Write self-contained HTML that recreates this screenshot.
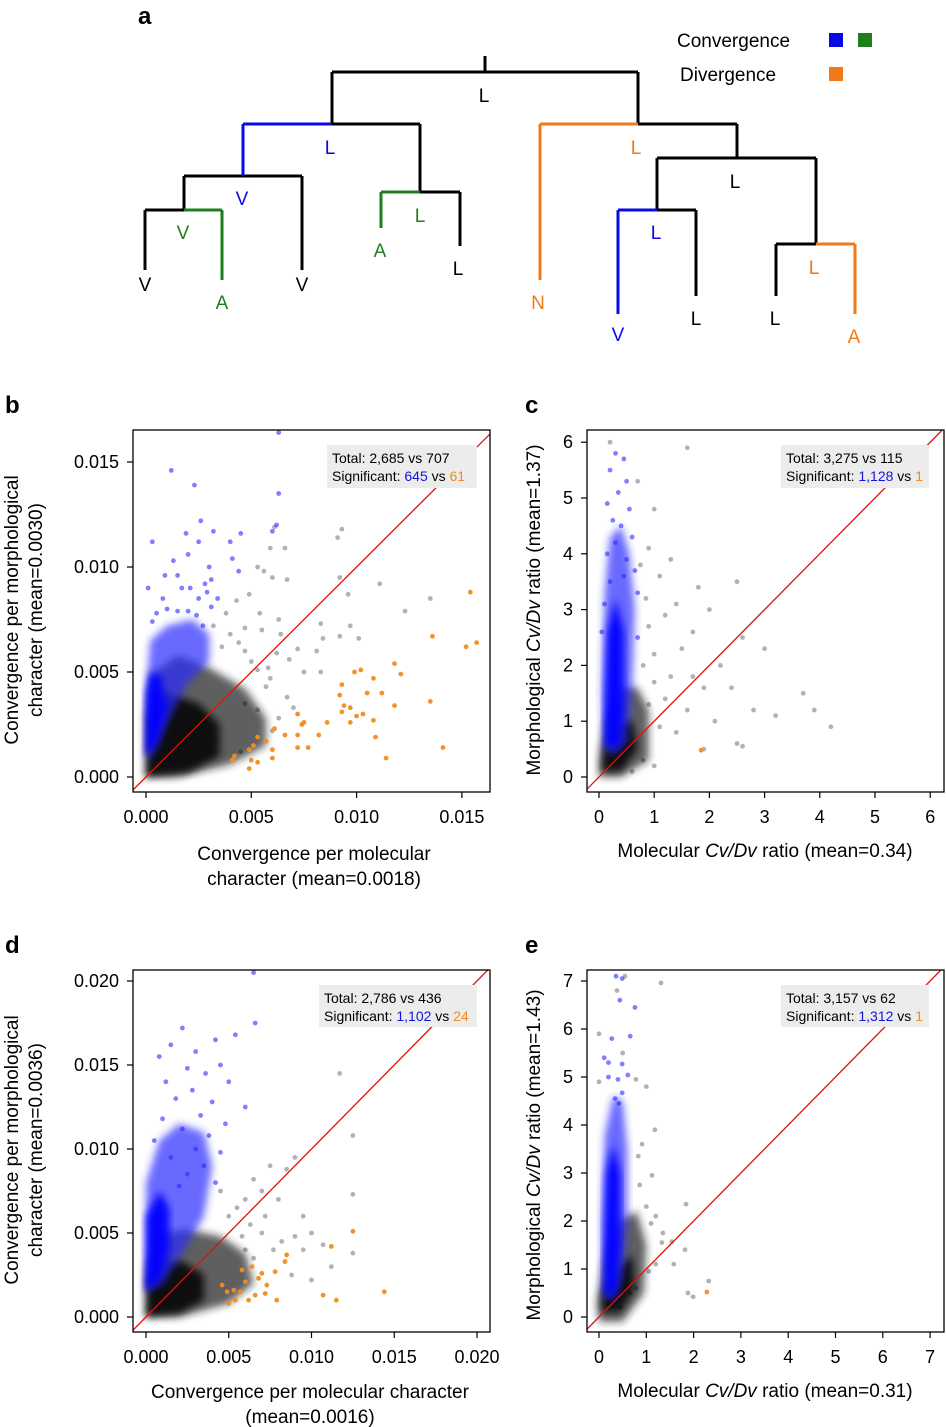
<!DOCTYPE html>
<html><head><meta charset="utf-8"><style>
html,body{margin:0;padding:0;background:#fff;width:946px;height:1427px;overflow:hidden}
svg{display:block;font-family:"Liberation Sans",Arial,sans-serif}
</style></head><body>
<svg id="fig" width="946" height="1427" viewBox="0 0 946 1427">
<defs>
<filter id="blur3" x="-20%" y="-20%" width="140%" height="140%"><feGaussianBlur stdDeviation="4"/></filter>
</defs>
<g stroke-width="3" fill="none">
<text x="138" y="24" font-size="24" font-weight="bold" fill="#000" stroke="none">a</text>
<g stroke="#000">
<path d="M485 56V72M332 72H638M332 72V124M332 124H420M420 124V192M420 192H460M460 192V246M184 176H302M184 176V210M145 210H184M145 210V270M302 176V270M638 72V124M638 124H737M737 124V158M657 158H816M657 158V210M657 210H696M696 210V296M816 158V244M776 244H816M776 244V296"/>
</g>
<g stroke="#0a0ae6"><path d="M243 124H332M243 124V176M618 210H657M618 210V314"/></g>
<g stroke="#1f7f1f"><path d="M184 210H222M222 210V280M381 192H420M381 192V228"/></g>
<g stroke="#f07a18"><path d="M540 124H638M540 124V280M816 244H855M855 244V314"/></g>
<g font-size="19" text-anchor="middle" stroke="none">
<text x="484" y="102" fill="#000">L</text>
<text x="330" y="154" fill="#0a0ae6">L</text>
<text x="242" y="205" fill="#0a0ae6">V</text>
<text x="183" y="239" fill="#1f7f1f">V</text>
<text x="145" y="291" fill="#000">V</text>
<text x="222" y="309" fill="#1f7f1f">A</text>
<text x="302" y="291" fill="#000">V</text>
<text x="420" y="222" fill="#1f7f1f">L</text>
<text x="380" y="257" fill="#1f7f1f">A</text>
<text x="458" y="275" fill="#000">L</text>
<text x="636" y="154" fill="#f07a18">L</text>
<text x="538" y="309" fill="#f07a18">N</text>
<text x="735" y="188" fill="#000">L</text>
<text x="656" y="239" fill="#0a0ae6">L</text>
<text x="618" y="341" fill="#0a0ae6">V</text>
<text x="696" y="325" fill="#000">L</text>
<text x="814" y="274" fill="#f07a18">L</text>
<text x="775" y="325" fill="#000">L</text>
<text x="854" y="343" fill="#f07a18">A</text>
</g>
<g stroke="none">
<text x="677" y="47" font-size="19" fill="#000">Convergence</text>
<rect x="829" y="33" width="14" height="14" fill="#0a0ae6"/>
<rect x="858" y="33" width="14" height="14" fill="#1f7f1f"/>
<text x="680" y="81" font-size="19" fill="#000">Divergence</text>
<rect x="829" y="67" width="14" height="14" fill="#f07a18"/>
</g>
</g>
<g id="panels"></g>
</svg>
<script>
// ---------- Panel b data ----------
const bXTicks=[0,0.005,0.010,0.015];
const bXTickLabels=["0.000","0.005","0.010","0.015"];
const bYTicks=[0,0.005,0.010,0.015];
const bYTickLabels=["0.000","0.005","0.010","0.015"];
const bBlackCore=[[0,0],[0.0015,0],[0.004,0.0006],[0.0057,0.0015],[0.0057,0.0028],[0.0047,0.0042],[0.003,0.0052],[0.0015,0.0058],[0.0004,0.005],[0,0.003]];
const bBlackDense=[[0,0],[0.002,0.0002],[0.0035,0.001],[0.0035,0.0025],[0.0025,0.0035],[0.001,0.004],[0.0002,0.003]];
const bBlueCore=[[0,0.0008],[0.0004,0.0012],[0.0012,0.003],[0.002,0.0045],[0.003,0.0055],[0.003,0.0068],[0.0022,0.0075],[0.001,0.0072],[0.0002,0.0065],[0,0.004]];
const bBlueDense=[[0,0.001],[0.0005,0.0016],[0.001,0.0033],[0.0007,0.0048],[0.0002,0.005],[0,0.004]];
const bGray=[[0.0093,0.0118],[0.0091,0.0114],[0.0059,0.0109],[0.0066,0.0109],[0.0061,0.0119],[0.0053,0.0100],[0.0056,0.0098],[0.0060,0.0095],[0.0067,0.0094],[0.0092,0.0095],[0.0111,0.0092],[0.0135,0.0085],[0.0123,0.0079],[0.0096,0.0087],[0.0083,0.0073],[0.0097,0.0072],[0.0101,0.0066],[0.0092,0.0067],[0.0084,0.0066],[0.0081,0.0060],[0.0068,0.0056],[0.0075,0.0050],[0.0083,0.0050],[0.0059,0.0047],[0.0067,0.0038],[0.0063,0.0075],[0.0054,0.0078],[0.0047,0.0071],[0.0038,0.0078],[0.0043,0.0084],[0.0049,0.0087],[0.0055,0.0070],[0.0062,0.0059],[0.0053,0.0051],[0.0057,0.0043],[0.0047,0.0035],[0.0053,0.0032],[0.0064,0.0068],[0.0047,0.0060],[0.0040,0.0068],[0.0032,0.0072],[0.0072,0.0061],[0.0044,0.0064],[0.0036,0.0062],[0.0050,0.0055],[0.0058,0.0052],[0.0063,0.0028],[0.0060,0.0022],[0.0045,0.0012],[0.0070,0.0033]];
const bBlue=[[0.0063,0.0164],[0.0012,0.0146],[0.0023,0.0139],[0.0063,0.0135],[0.0026,0.0122],[0.0062,0.0120],[0.0060,0.0117],[0.0003,0.0112],[0.0019,0.0116],[0.0032,0.0117],[0.0025,0.0112],[0.0040,0.0112],[0.0045,0.0116],[0.0020,0.0106],[0.0041,0.0104],[0.0013,0.0103],[0.0030,0.0100],[0.0015,0.0096],[0.0009,0.0096],[0.0028,0.0092],[0.0044,0.0098],[0.0031,0.0094],[0.0001,0.0090],[0.0017,0.0090],[0.0021,0.0090],[0.0029,0.0088],[0.0025,0.0085],[0.0034,0.0085],[0.0008,0.0085],[0.0031,0.0081],[0.0015,0.0079],[0.0005,0.0078],[0.0010,0.0080],[0.0020,0.0079],[0.0024,0.0077],[0.0003,0.0074],[0.0027,0.0072]];
const bOrange=[[0.0154,0.0088],[0.0136,0.0067],[0.0152,0.0062],[0.0157,0.0064],[0.0118,0.0054],[0.0121,0.0049],[0.0099,0.0050],[0.0102,0.0051],[0.0108,0.0047],[0.0093,0.0044],[0.0105,0.0040],[0.0112,0.0040],[0.0092,0.0039],[0.0094,0.0034],[0.0097,0.0033],[0.0093,0.0031],[0.0103,0.0030],[0.0100,0.0029],[0.0097,0.0026],[0.0108,0.0027],[0.0118,0.0034],[0.0135,0.0036],[0.0109,0.0019],[0.0141,0.0014],[0.0114,0.0009],[0.0086,0.0026],[0.0082,0.0020],[0.0077,0.0014],[0.0072,0.0014],[0.0072,0.0020],[0.0074,0.0025],[0.0075,0.0026],[0.0072,0.0030],[0.0066,0.0020],[0.0061,0.0023],[0.0060,0.0013],[0.0060,0.0009],[0.0057,0.0017],[0.0053,0.0019],[0.0051,0.0015],[0.0049,0.0013],[0.0050,0.0008],[0.0053,0.0007],[0.0049,0.0004],[0.0042,0.0010],[0.0041,0.0008]];

// ---------- Panel c data ----------
const cXTicks=[0,1,2,3,4,5,6];
const cXTickLabels=["0","1","2","3","4","5","6"];
const cYTicks=[0,1,2,3,4,5,6];
const cYTickLabels=["0","1","2","3","4","5","6"];
const cBlackCore=[[0,0],[0.4,0],[0.9,0.3],[0.9,1.2],[0.7,1.6],[0.4,1.6],[0.1,1.0],[0,0.3]];
const cBlackDense=[[0.05,0.1],[0.4,0.1],[0.7,0.5],[0.6,1.0],[0.3,1.0],[0.08,0.5]];
const cBlueCore=[[0.08,0.5],[0.25,0.4],[0.5,0.6],[0.6,1.5],[0.65,3],[0.55,4],[0.4,4.5],[0.2,4.3],[0.1,3.3],[0.05,1.5]];
const cBlueDense=[[0.12,0.6],[0.35,0.5],[0.45,1.2],[0.45,2.6],[0.3,3.2],[0.15,2.6],[0.1,1.2]];
const cGray=[[1.6,5.9],[0.2,6.0],[0.7,5.3],[1.0,4.8],[0.9,4.1],[1.3,3.9],[1.1,3.6],[1.8,3.4],[2.5,3.5],[1.4,3.1],[2.0,3.0],[1.2,2.9],[0.9,2.7],[1.7,2.6],[2.6,2.5],[1.5,2.3],[1.0,2.2],[3.0,2.3],[2.2,2.0],[1.3,1.8],[1.9,1.6],[2.4,1.6],[3.7,1.5],[2.8,1.2],[3.2,1.1],[3.9,1.2],[4.2,0.9],[1.2,1.4],[1.6,1.2],[2.1,1.0],[2.5,0.6],[1.4,0.8],[0.9,1.3],[1.1,0.9],[1.9,0.5],[0.8,0.3],[1.0,0.2],[0.6,0.1],[2.6,0.55],[1.7,1.8],[0.8,2.0],[1.0,1.7],[0.85,3.2],[0.75,3.8]];
const cBlue=[[0.3,5.8],[0.45,5.7],[0.2,5.5],[0.5,5.3],[0.35,5.1],[0.15,4.9],[0.55,4.8],[0.25,4.6],[0.4,4.5],[0.6,4.3],[0.3,4.2],[0.15,4.0],[0.5,3.9],[0.65,3.7],[0.45,3.6],[0.2,3.5],[0.7,3.3],[0.1,3.1],[0.7,2.5],[0.05,2.6]];
const cOrange=[[1.85,0.48]];

// ---------- Panel d data ----------
const dXTicks=[0,0.005,0.010,0.015,0.020];
const dXTickLabels=["0.000","0.005","0.010","0.015","0.020"];
const dYTicks=[0,0.005,0.010,0.015,0.020];
const dYTickLabels=["0.000","0.005","0.010","0.015","0.020"];
const dBlackCore=[[0,0],[0.002,0],[0.005,0.0008],[0.0065,0.002],[0.006,0.0038],[0.0045,0.0048],[0.0025,0.0052],[0.0008,0.005],[0,0.003]];
const dBlackDense=[[0,0],[0.002,0.0002],[0.0035,0.001],[0.0035,0.0025],[0.0022,0.0033],[0.0008,0.0034],[0.0001,0.0022]];
const dBlueCore=[[0,0.0015],[0.001,0.002],[0.002,0.0035],[0.0035,0.006],[0.004,0.009],[0.0035,0.011],[0.002,0.0115],[0.0008,0.0105],[0,0.008]];
const dBlueDense=[[0,0.0015],[0.0008,0.0022],[0.0014,0.004],[0.0014,0.0065],[0.0008,0.0075],[0,0.006]];
const dGray=[[0.0117,0.0145],[0.0125,0.0108],[0.0090,0.0095],[0.0085,0.0088],[0.0075,0.0090],[0.0065,0.0082],[0.0070,0.0075],[0.0080,0.0070],[0.0060,0.0070],[0.0055,0.0065],[0.0095,0.0060],[0.0072,0.0060],[0.0100,0.0050],[0.0090,0.0048],[0.0063,0.0055],[0.0082,0.0045],[0.0095,0.0040],[0.0125,0.0038],[0.0125,0.0073],[0.0107,0.0043],[0.0112,0.0030],[0.0088,0.0025],[0.0077,0.0040],[0.0070,0.0050],[0.0058,0.0048],[0.0065,0.0035],[0.0100,0.0022],[0.0060,0.0040],[0.0050,0.0060],[0.0045,0.0075]];
const dBlue=[[0.0065,0.0205],[0.0066,0.0175],[0.0022,0.0172],[0.0015,0.0162],[0.0042,0.0165],[0.0054,0.0168],[0.0030,0.0158],[0.0008,0.0155],[0.0045,0.0150],[0.0025,0.0148],[0.0036,0.0145],[0.0012,0.0140],[0.0050,0.0140],[0.0028,0.0135],[0.0018,0.0130],[0.0040,0.0128],[0.0060,0.0125],[0.0033,0.0120],[0.0010,0.0118],[0.0048,0.0115],[0.0022,0.0112],[0.0038,0.0108],[0.0005,0.0105],[0.0030,0.0100],[0.0045,0.0098],[0.0015,0.0095],[0.0035,0.0090],[0.0025,0.0085],[0.0042,0.0080],[0.0020,0.0078]];
const dOrange=[[0.0125,0.0051],[0.0112,0.0042],[0.0144,0.0015],[0.0115,0.0010],[0.0107,0.0013],[0.0085,0.0037],[0.0084,0.0033],[0.0078,0.0027],[0.0070,0.0026],[0.0068,0.0023],[0.0073,0.0019],[0.0060,0.0021],[0.0057,0.0015],[0.0053,0.0016],[0.0049,0.0015],[0.0054,0.0010],[0.0062,0.0010],[0.0046,0.0019],[0.0066,0.0013],[0.0079,0.0010],[0.0050,0.0008],[0.0064,0.0030],[0.0072,0.0014],[0.0058,0.0028]];

// ---------- Panel e data ----------
const eXTicks=[0,1,2,3,4,5,6,7];
const eXTickLabels=["0","1","2","3","4","5","6","7"];
const eYTicks=[0,1,2,3,4,5,6,7];
const eYTickLabels=["0","1","2","3","4","5","6","7"];
const eBlackCore=[[0,-0.1],[0.5,-0.1],[0.95,0.5],[1.0,1.5],[0.8,2.2],[0.4,2.0],[0.1,1.2],[-0.05,0.3]];
const eBlackDense=[[0.05,0.1],[0.45,0.1],[0.75,0.6],[0.7,1.3],[0.35,1.0],[0.08,0.5]];
const eBlueCore=[[0.08,0.4],[0.3,0.35],[0.5,0.8],[0.6,2],[0.6,3.5],[0.5,4.5],[0.3,4.6],[0.12,3.8],[0.05,2]];
const eBlueDense=[[0.12,0.5],[0.35,0.45],[0.45,1.5],[0.45,3],[0.3,3.6],[0.15,3],[0.1,1.5]];
const eGray=[[1.31,6.96],[0.55,7.1],[0.38,6.8],[0.0,5.9],[0.5,5.5],[0.0,4.9],[0.78,4.95],[1.0,4.8],[1.18,3.9],[0.91,3.6],[0.83,3.35],[1.12,2.95],[0.86,2.75],[1.84,2.35],[1.0,2.3],[1.2,2.1],[1.1,1.95],[1.35,1.75],[1.54,1.57],[1.82,1.4],[1.33,1.55],[1.58,1.1],[1.2,1.1],[1.05,0.95],[2.32,0.75],[1.88,0.5],[1.99,0.42],[0.78,0.6],[0.66,0.5],[0.45,0.2],[0.2,0.3]];
const eBlue=[[0.36,7.1],[0.49,7.05],[0.44,6.6],[0.76,6.45],[0.66,5.85],[0.27,5.8],[0.11,5.4],[0.2,5.3],[0.49,5.27],[0.2,5.0],[0.4,4.95],[0.49,4.67],[0.34,4.55],[0.42,4.45],[0.61,5.04]];
const eOrange=[[2.28,0.52]];

const NS="http://www.w3.org/2000/svg";
const root=document.getElementById('panels');
function mk(tag,attrs,parent){const e=document.createElementNS(NS,tag);for(const k in attrs)e.setAttribute(k,attrs[k]);parent.appendChild(e);return e;}

function panel(p){
  const g=mk('g',{},root);
  
  
  const sx=v=>p.ox+v*p.kx, sy=v=>p.oy-v*p.ky;
  const cid='clip-'+p.letter;
  const cp=mk('clipPath',{id:cid},g);
  mk('rect',{x:p.x0,y:p.y0,width:p.x1-p.x0,height:p.y1-p.y0},cp);
  const plot=mk('g',{'clip-path':'url(#'+cid+')'},g);
  
  
  const poly=(pts,fill,op,nm)=>{const e=mk('polygon',{points:pts.map(q=>sx(q[0])+','+sy(q[1])).join(' '),fill:fill,'fill-opacity':op,filter:'url(#blur3)'},plot);
    
    };
  poly(p.blackCore,'#1a1a1a',0.7,'nonsignificant-cloud');
  poly(p.blackDense,'#000',0.85,'nonsignificant-dense-cloud');
  const dots=(arr,fill,op,nm)=>arr.forEach(q=>{const c=mk('circle',{cx:sx(q[0]),cy:sy(q[1]),r:2.4,fill:fill,'fill-opacity':op},plot);
    
    });
  dots(p.gray,'#000',0.3,'nonsignificant-point');
  poly(p.blueCore,'#2a2aff',0.7,'convergence-cloud');
  poly(p.blueDense,'#0000ff',0.95,'convergence-dense-cloud');
  dots(p.blue,'#2a2aff',0.6,'convergence-point');
  dots(p.orange,'#f28c1e',0.95,'divergence-point');
  const l=mk('line',{x1:sx(-10),y1:sy(-10),x2:sx(100),y2:sy(100),stroke:'#e01010','stroke-width':1.3},plot);
  
  
  const fr=mk('rect',{x:p.x0,y:p.y0,width:p.x1-p.x0,height:p.y1-p.y0,fill:'none',stroke:'#000','stroke-width':1.3},g);
  
  
  p.xt.forEach((v,i)=>{mk('line',{x1:sx(v),x2:sx(v),y1:p.y1,y2:p.y1+6,stroke:'#000','stroke-width':1.2},g);
    const t=mk('text',{x:sx(v),y:p.y1+31,'font-size':18,'text-anchor':'middle',fill:'#000'},g);t.textContent=p.xl[i];
    
    });
  p.yt.forEach((v,i)=>{mk('line',{x1:p.x0-6,x2:p.x0,y1:sy(v),y2:sy(v),stroke:'#000','stroke-width':1.2},g);
    const t=mk('text',{x:p.x0-14,y:sy(v)+6,'font-size':18,'text-anchor':'end',fill:'#000'},g);t.textContent=p.yl[i];
    
    });
  const ib=p.box;
  const r=mk('rect',{x:ib[0],y:ib[1],width:ib[2]-ib[0],height:ib[3]-ib[1],fill:'#ececec'},g);
  
  
  const t1=mk('text',{x:ib[0]+5,y:ib[1]+18,'font-size':14,fill:'#000'},g);t1.textContent=p.total;
  
  
  const t2=mk('text',{x:ib[0]+5,y:ib[1]+36,'font-size':14,fill:'#000'},g);
  
  
  t2.innerHTML='Significant: <tspan fill="#1414d8">'+p.sig[0]+'</tspan> vs <tspan fill="#f28c1e">'+p.sig[1]+'</tspan>';
  const pl=mk('text',{x:p.lx,y:p.ly,'font-size':24,'font-weight':'bold',fill:'#000'},g);pl.textContent=p.letter;
  
  
  p.xTitle.forEach((s,i)=>{const t=mk('text',{x:p.xtx,y:p.xty+i*25,'font-size':19,'text-anchor':'middle',fill:'#000'},g);t.innerHTML=s;
    
    });
  p.yTitle.forEach((s,i)=>{const xx=p.ytx+i*24;const t=mk('text',{x:xx,y:p.yty,'font-size':19,'text-anchor':'middle',fill:'#000',transform:'rotate(-90 '+xx+' '+p.yty+')'},g);t.innerHTML=s;
    
    });
}
const it='<tspan font-style="italic">Cv/Dv</tspan>';
panel({letter:'b',name:'panel-b-scatter',x0:133,y0:430,x1:490,y1:792,ox:146,oy:777,kx:21060,ky:21000,
  xt:bXTicks,xl:bXTickLabels,yt:bYTicks,yl:bYTickLabels,blackCore:bBlackCore,blackDense:bBlackDense,blueCore:bBlueCore,blueDense:bBlueDense,gray:bGray,blue:bBlue,orange:bOrange,
  box:[327,445,477,488],total:'Total: 2,685 vs 707',sig:['645','61'],lx:5,ly:413,
  xTitle:['Convergence per molecular','character (mean=0.0018)'],xtx:314,xty:860,
  yTitle:['Convergence per morphological','character (mean=0.0030)'],ytx:18,yty:610});
panel({letter:'c',name:'panel-c-scatter',x0:587,y0:430,x1:944,y1:792,ox:599,oy:777,kx:55.2,ky:55.8,
  xt:cXTicks,xl:cXTickLabels,yt:cYTicks,yl:cYTickLabels,blackCore:cBlackCore,blackDense:cBlackDense,blueCore:cBlueCore,blueDense:cBlueDense,gray:cGray,blue:cBlue,orange:cOrange,
  box:[781,445,929,488],total:'Total: 3,275 vs 115',sig:['1,128','1'],lx:525,ly:413,
  xTitle:['Molecular '+it+' ratio (mean=0.34)'],xtx:765,xty:857,
  yTitle:['Morphological '+it+' ratio (mean=1.37)'],ytx:540,yty:610});
panel({letter:'d',name:'panel-d-scatter',x0:133,y0:970,x1:490,y1:1332,ox:146,oy:1317,kx:16550,ky:16800,
  xt:dXTicks,xl:dXTickLabels,yt:dYTicks,yl:dYTickLabels,blackCore:dBlackCore,blackDense:dBlackDense,blueCore:dBlueCore,blueDense:dBlueDense,gray:dGray,blue:dBlue,orange:dOrange,
  box:[319,985,477,1027],total:'Total: 2,786 vs 436',sig:['1,102','24'],lx:5,ly:953,
  xTitle:['Convergence per molecular character','(mean=0.0016)'],xtx:310,xty:1398,
  yTitle:['Convergence per morphological','character (mean=0.0036)'],ytx:18,yty:1150});
panel({letter:'e',name:'panel-e-scatter',x0:587,y0:970,x1:944,y1:1332,ox:599,oy:1317,kx:47.3,ky:48,
  xt:eXTicks,xl:eXTickLabels,yt:eYTicks,yl:eYTickLabels,blackCore:eBlackCore,blackDense:eBlackDense,blueCore:eBlueCore,blueDense:eBlueDense,gray:eGray,blue:eBlue,orange:eOrange,
  box:[781,985,929,1027],total:'Total: 3,157 vs 62',sig:['1,312','1'],lx:525,ly:953,
  xTitle:['Molecular '+it+' ratio (mean=0.31)'],xtx:765,xty:1397,
  yTitle:['Morphological '+it+' ratio (mean=1.43)'],ytx:540,yty:1155});
</script>
</body></html>
